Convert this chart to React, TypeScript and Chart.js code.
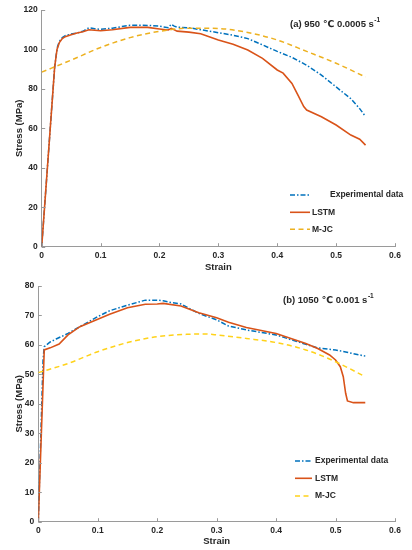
import React, { useEffect, useRef } from "react";
import { Chart, registerables } from "chart.js";

Chart.register(...registerables);

// ---------- Panel (a): 950 ℃ 0.0005 s-1 ----------
const expStrainA = [0, 0.022, 0.025, 0.027, 0.03, 0.035, 0.04, 0.05, 0.06, 0.07, 0.08, 0.09, 0.1, 0.12, 0.15, 0.18, 0.2, 0.215, 0.22, 0.225, 0.23, 0.25, 0.27, 0.3, 0.325, 0.35, 0.375, 0.4, 0.425, 0.45, 0.475, 0.5, 0.525, 0.54, 0.55];
const expStressA = [0, 91, 98, 101.5, 104, 106, 107, 107.8, 108.3, 109.2, 111, 110.5, 110.2, 110.8, 112.3, 112.2, 111.8, 111, 112.8, 111.8, 111.3, 111, 110, 108.5, 107.2, 105.5, 102.3, 99, 96, 92, 87, 81, 75, 70, 66];
const lstmStrainA = [0, 0.022, 0.026, 0.03, 0.035, 0.04, 0.05, 0.06, 0.07, 0.08, 0.1, 0.12, 0.15, 0.18, 0.2, 0.215, 0.22, 0.23, 0.25, 0.27, 0.3, 0.325, 0.35, 0.375, 0.4, 0.41, 0.425, 0.435, 0.445, 0.45, 0.475, 0.5, 0.525, 0.54, 0.55];
const lstmStressA = [0, 91, 100, 103.5, 105.5, 106.5, 107.5, 108.3, 109, 110, 109.5, 110, 111.2, 111.2, 110.4, 109.9, 110.7, 109.3, 108.8, 108, 104.8, 102.6, 99.7, 95.5, 89.6, 88, 82.8, 77, 71, 69.3, 65.9, 61.7, 56.6, 54.5, 51.5];
const mjcStrainA = [0, 0.05, 0.1, 0.15, 0.2, 0.25, 0.3, 0.35, 0.4, 0.45, 0.5, 0.55];
const mjcStressA = [88.5, 94.6, 101, 106, 109.2, 110.8, 110.6, 108.6, 104.8, 99, 93, 86];
const stressTicksA = [0, 20, 40, 60, 80, 100, 120];

// ---------- Panel (b): 1050 ℃ 0.001 s-1 ----------
const expStrainB = [0, 0.008, 0.01, 0.02, 0.03, 0.05, 0.07, 0.1, 0.12, 0.15, 0.18, 0.2, 0.21, 0.22, 0.24, 0.27, 0.3, 0.32, 0.35, 0.4, 0.45, 0.47, 0.5, 0.55];
const expStressB = [0, 55, 59.4, 61, 62, 63.9, 66.2, 69.6, 71.6, 73.5, 75.2, 75.2, 75, 74.5, 73.9, 70.7, 68.5, 66.4, 65.1, 63.4, 60.2, 59, 58.3, 56.2];
const lstmStrainB = [0, 0.01, 0.02, 0.035, 0.05, 0.07, 0.1, 0.12, 0.15, 0.18, 0.2, 0.21, 0.24, 0.27, 0.3, 0.32, 0.35, 0.4, 0.45, 0.47, 0.49, 0.5, 0.508, 0.513, 0.517, 0.52, 0.53, 0.55];
const lstmStressB = [0, 58.3, 59, 60.3, 63.4, 66.2, 68.7, 70.4, 72.6, 73.8, 73.9, 74.1, 73.2, 70.9, 69.2, 67.7, 65.9, 63.9, 60.5, 58.8, 56.6, 54.9, 52.6, 49.2, 43.6, 41, 40.4, 40.4];
const mjcStrainB = [0, 0.05, 0.1, 0.15, 0.2, 0.25, 0.28, 0.3, 0.35, 0.4, 0.45, 0.5, 0.55];
const mjcStressB = [50.6, 53.7, 57.7, 60.8, 62.8, 63.6, 63.7, 63.4, 62.2, 60.8, 58.3, 54.3, 49.2];
const stressTicksB = [0, 10, 20, 30, 40, 50, 60, 70, 80];

const strainTicks = [0, 0.1, 0.2, 0.3, 0.4, 0.5, 0.6];
const seriesNames = ["Experimental data", "LSTM", "M-JC"];

const BLUE = "#0072BD";
const ORANGE = "#D95319";
const YELLOW_A = "#EDB120";
const YELLOW_B = "#FFD21A";
const AXIS = "#9a9a9a";
const TEXT = "#262626";
const FONT = "'Liberation Sans', Arial, 'DejaVu Sans', sans-serif";

type PanelCfg = {
  exp: [number[], number[]];
  lstm: [number[], number[]];
  mjc: [number[], number[]];
  mjcColor: string;
  yTicks: number[];
  yAxisWidth: number;
  yTitlePad: number;
  xTitlePad: number;
  padTop: number;
  label: string;
  labelX: number;
  labelY: number;
  legendLine: [number, number];
  legendTextX: number[];
  legendY: number[];
};

const pts = (xs: number[], ys: number[]) => xs.map((x, i) => ({ x, y: ys[i] }));

function makeOverlay(cfg: PanelCfg) {
  return {
    id: "overlay",
    afterDraw(chart: any) {
      const ctx = chart.ctx as CanvasRenderingContext2D;
      const area = chart.chartArea;
      ctx.save();
      // inward tick marks
      ctx.strokeStyle = AXIS;
      ctx.lineWidth = 1;
      const xs = chart.scales.x;
      const ys = chart.scales.y;
      xs.ticks.forEach((t: any) => {
        const px = Math.round(xs.getPixelForValue(t.value)) + 0.5;
        ctx.beginPath();
        ctx.moveTo(px, area.bottom);
        ctx.lineTo(px, area.bottom - 3.5);
        ctx.stroke();
      });
      ys.ticks.forEach((t: any) => {
        const py = Math.round(ys.getPixelForValue(t.value)) + 0.5;
        ctx.beginPath();
        ctx.moveTo(area.left, py);
        ctx.lineTo(area.left + 3.5, py);
        ctx.stroke();
      });

      // annotation text with superscript
      ctx.fillStyle = TEXT;
      ctx.textBaseline = "middle";
      ctx.textAlign = "left";
      ctx.font = `bold 9.5px ${FONT}`;
      ctx.fillText(cfg.label, cfg.labelX, cfg.labelY);
      const w = ctx.measureText(cfg.label).width;
      ctx.font = `bold 6.5px ${FONT}`;
      ctx.fillText("-1", cfg.labelX + w + 0.5, cfg.labelY - 4);

      // legend
      const styles = [
        { color: BLUE, dash: [5, 2, 1.5, 2] },
        { color: ORANGE, dash: [] as number[] },
        { color: cfg.mjcColor, dash: [5, 3.5] },
      ];
      styles.forEach((s, i) => {
        const y = cfg.legendY[i];
        ctx.strokeStyle = s.color;
        ctx.lineWidth = 1.6;
        ctx.setLineDash(s.dash);
        ctx.beginPath();
        ctx.moveTo(cfg.legendLine[0], y);
        ctx.lineTo(cfg.legendLine[1], y);
        ctx.stroke();
        ctx.setLineDash([]);
        ctx.fillStyle = TEXT;
        ctx.font = `bold 8.5px ${FONT}`;
        ctx.fillText(seriesNames[i], cfg.legendTextX[i], y);
      });
      ctx.restore();
    },
  };
}

function Panel({ cfg, top }: { cfg: PanelCfg; top: number }) {
  const ref = useRef<HTMLCanvasElement>(null);
  useEffect(() => {
    if (!ref.current) return;
    const yMax = cfg.yTicks[cfg.yTicks.length - 1];
    const yStep = cfg.yTicks[1] - cfg.yTicks[0];
    const chart = new Chart(ref.current, {
      type: "line",
      data: {
        datasets: [
          {
            label: seriesNames[0],
            data: pts(cfg.exp[0], cfg.exp[1]),
            borderColor: BLUE,
            borderWidth: 1.5,
            borderDash: [5, 2, 1.5, 2],
            pointRadius: 0,
            tension: 0,
            order: 3,
          },
          {
            label: seriesNames[1],
            data: pts(cfg.lstm[0], cfg.lstm[1]),
            borderColor: ORANGE,
            borderWidth: 1.6,
            pointRadius: 0,
            tension: 0,
            order: 2,
          },
          {
            label: seriesNames[2],
            data: pts(cfg.mjc[0], cfg.mjc[1]),
            borderColor: cfg.mjcColor,
            borderWidth: 1.5,
            borderDash: [5, 3.5],
            pointRadius: 0,
            cubicInterpolationMode: "monotone",
            order: 1,
          },
        ],
      },
      options: {
        animation: false,
        responsive: false,
        events: [],
        layout: { padding: { top: cfg.padTop, right: 17, left: 0, bottom: 0 } },
        plugins: { legend: { display: false }, tooltip: { enabled: false } },
        scales: {
          x: {
            type: "linear",
            min: strainTicks[0],
            max: strainTicks[strainTicks.length - 1],
            afterBuildTicks: (s: any) => {
              s.ticks = strainTicks.map((v) => ({ value: v }));
            },
            afterFit: (s: any) => {
              s.height = 28.3;
            },
            grid: { display: true, drawOnChartArea: false, drawTicks: false },
            border: { display: true, color: AXIS, width: 1 },
            ticks: {
              padding: 3.5,
              color: TEXT,
              font: { family: FONT, size: 8.5, weight: "bold" },
              maxRotation: 0,
              callback: (v: any) => (Number(v) === 0 ? "0" : Number(v).toFixed(1)),
            },
            title: {
              display: true,
              text: "Strain",
              color: TEXT,
              font: { family: FONT, size: 9.5, weight: "bold" },
              padding: { top: 0, bottom: cfg.xTitlePad },
            },
          },
          y: {
            type: "linear",
            min: cfg.yTicks[0],
            max: yMax,
            ticks: {
              stepSize: yStep,
              padding: 4,
              color: TEXT,
              font: { family: FONT, size: 8.5, weight: "bold" },
            },
            afterFit: (s: any) => {
              s.width = cfg.yAxisWidth;
            },
            grid: { display: true, drawOnChartArea: false, drawTicks: false },
            border: { display: true, color: AXIS, width: 1 },
            title: {
              display: true,
              text: "Stress (MPa)",
              color: TEXT,
              font: { family: FONT, size: 9.5, weight: "bold" },
              padding: { top: cfg.yTitlePad, bottom: 0 },
            },
          },
        },
      } as any,
      plugins: [makeOverlay(cfg)],
    });
    return () => chart.destroy();
  }, [cfg]);
  return (
    <canvas
      ref={ref}
      width={412}
      height={275}
      style={{ position: "absolute", left: 0, top, width: 412, height: 275, display: "block" }}
    />
  );
}

const cfgA: PanelCfg = {
  exp: [expStrainA, expStressA],
  lstm: [lstmStrainA, lstmStressA],
  mjc: [mjcStrainA, mjcStressA],
  mjcColor: YELLOW_A,
  yTicks: stressTicksA,
  yAxisWidth: 41.7,
  yTitlePad: 13.5,
  xTitlePad: 2.3,
  padTop: 10,
  label: "(a) 950 ℃ 0.0005 s",
  labelX: 290,
  labelY: 24,
  legendLine: [290, 310],
  legendTextX: [330, 312, 312],
  legendY: [195, 212.3, 229.3],
};

const cfgB: PanelCfg = {
  exp: [expStrainB, expStressB],
  lstm: [lstmStrainB, lstmStressB],
  mjc: [mjcStrainB, mjcStressB],
  mjcColor: YELLOW_B,
  yTicks: stressTicksB,
  yAxisWidth: 38.3,
  yTitlePad: 14,
  xTitlePad: 2.6,
  padTop: 11,
  label: "(b) 1050 ℃ 0.001 s",
  labelX: 283,
  labelY: 25,
  legendLine: [295, 312],
  legendTextX: [315, 315, 315],
  legendY: [186, 203.3, 221],
};

export default function App() {
  return (
    <div style={{ position: "absolute", left: 0, top: 0, width: 412, height: 550, background: "#fff" }}>
      <Panel cfg={cfgA} top={0} />
      <Panel cfg={cfgB} top={275} />
    </div>
  );
}
